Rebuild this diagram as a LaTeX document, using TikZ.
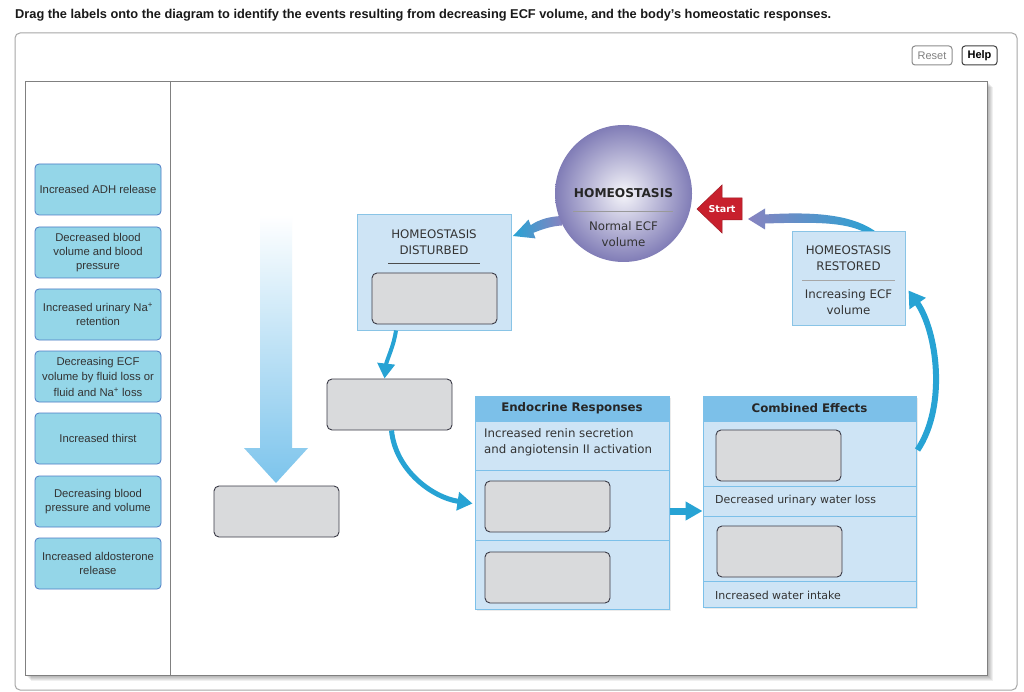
\documentclass[tikz,border=0pt]{standalone}
\usepackage{fontspec}
\setmainfont{Liberation Sans}
\newfontfamily\dv{DejaVu Sans}
\usetikzlibrary{arrows.meta,shapes.geometric}
\definecolor{lblfill}{HTML}{94D6E8}
\definecolor{lblborder}{HTML}{4D7CC4}
\definecolor{boxfill}{HTML}{CEE4F5}
\definecolor{boxborder}{HTML}{89C4E6}
\definecolor{hdrfill}{HTML}{7CC0E9}
\definecolor{dropfill}{HTML}{D9DADC}
\definecolor{dropborder}{HTML}{3A3A46}
\definecolor{arrblue}{HTML}{27A3D4}
\definecolor{purp}{HTML}{8783C0}
\definecolor{startred}{HTML}{C8202D}
\definecolor{bigblue}{HTML}{7CC4EC}
\definecolor{txt}{HTML}{333333}
\tikzset{
  lbl/.style={draw=lblborder, fill=lblfill, rounded corners=4pt, line width=0.8pt,
    minimum width=126pt, minimum height=51pt, inner sep=1pt, align=center,
    font=\fontsize{11.3}{14}\selectfont, text=txt},
  dropb/.style={draw=dropborder, fill=dropfill, rounded corners=5pt, line width=0.9pt,
    minimum width=125pt, minimum height=51pt},
  panelbox/.style={draw=boxborder, fill=boxfill, line width=1pt},
  dtext/.style={font=\dv\fontsize{11.8}{16}\selectfont, text=txt, inner sep=0pt},
  stext/.style={font=\dv\fontsize{11}{16}\selectfont, text=txt, inner sep=0pt},
  btext/.style={font=\dv\bfseries\fontsize{11.8}{13}\selectfont, text=black!85, inner sep=0pt},
  barrow/.style={draw=arrblue, line width=5pt, -{Triangle[length=15pt,width=18pt]}},
  btn/.style={rounded corners=3pt, line width=1pt, minimum height=19pt, inner sep=2pt,
    font=\fontsize{11}{13}\selectfont}
}
\begin{document}
\begin{tikzpicture}[x=1pt,y=-1pt]
\useasboundingbox (0,0) rectangle (1024,692);
\fill[white] (0,0) rectangle (1024,692);

% title
\node[anchor=west, inner sep=0pt, font=\bfseries\fontsize{12.8}{14}\selectfont, text=black!90] (title) at (15,15)
  {Drag the labels onto the diagram to identify the events resulting from decreasing ECF volume, and the body’s homeostatic responses.};

% outer frame
\draw[black!35, line width=1pt, rounded corners=5pt] (15,33) rectangle (1017,690);

% buttons
\node[btn, draw=black!45, text=black!50, minimum width=40pt] (reset) at (932,55.5) {Reset};
\node[btn, draw=black!75, text=black, font=\bfseries\fontsize{11}{13}\selectfont, minimum width=35pt] (help) at (979.5,55.5) {Help};

% inner panel with shadow
\foreach \i in {1,...,6} { \fill[black, opacity=0.06] (25+\i,81+\i) rectangle (987+\i,675+\i); }
\fill[white] (25,81) rectangle (987,675);
\draw[black!50, line width=0.8pt] (25,81) rectangle (987,675);
\draw[black!50, line width=0.8pt] (170,81) -- (170,675);

% left labels
\node[lbl] (l1) at (98,189.5) {Increased ADH release};
\node[lbl] (l2) at (98,252.5) {Decreased blood\\volume and blood\\pressure};
\node[lbl] (l3) at (98,314.5) {Increased urinary Na\textsuperscript{+}\\retention};
\node[lbl, font=\fontsize{11.3}{15.5}\selectfont] (l4) at (98,376.5) {Decreasing ECF\\volume by fluid loss or\\fluid and Na\textsuperscript{+} loss};
\node[lbl] (l5) at (98,438.5) {Increased thirst};
\node[lbl] (l6) at (98,501.5) {Decreasing blood\\pressure and volume};
\node[lbl] (l7) at (98,563.5) {Increased aldosterone\\release};

% big gradient arrow
\shade[top color=white, bottom color=bigblue] (260,215) -- (292,215) -- (292,448) -- (308,448) -- (276,483) -- (244,448) -- (260,448) -- cycle;

% arrow circle -> disturbed (gradient)
\shade[left color=arrblue, right color=purp] (513,236) -- (528.5,219.6) -- (530.6,225.2) .. controls (540,219) and (550,216.5) .. (562,216) -- (562,225.5) .. controls (552,226) and (543,229) .. (533.4,232.8) -- (535.5,238.4) -- cycle;

% arrow restored -> start (gradient)
\shade[left color=purp, right color=arrblue] (748,219) -- (765,208.5) -- (765,214.5) .. controls (820,211) and (855,216) .. (877,232.5) -- (865,232.5) .. controls (845,222) and (815,222) .. (765,223.5) -- (765,229.5) -- cycle;

% homeostasis circle
\node[circle, minimum size=137pt, inner sep=0pt] (home) at (623.5,193.5) {};
\shade[inner color=white!92!purp, outer color=purp!95!black] (home.center) circle (68.5);
\node[btext, font=\dv\bfseries\fontsize{12.2}{13}\selectfont] (homet) at (623.5,193) {HOMEOSTASIS};
\draw[black!40, line width=0.7pt] (573,211) -- (673,211);
\node[dtext, align=center] (homen) at (623.5,234.5) {Normal ECF\\volume};

% start arrow
\fill[startred, draw=startred!80!black, line width=0.5pt] (697,209) -- (722,185) -- (722,198) -- (742,198) -- (742,220) -- (722,220) -- (722,233) -- cycle;
\node[font=\dv\bfseries\fontsize{9.5}{10}\selectfont, text=white, inner sep=0pt] (start) at (722,209) {Start};

% homeostasis disturbed
\node[panelbox, minimum width=154pt, minimum height=115pt] (dist) at (434,272.5) {};
\node[dtext, align=center] (distt) at (434,242) {HOMEOSTASIS\\DISTURBED};
\draw[black!70, line width=1pt] (388,263.5) -- (480,263.5);
\node[dropb] (d1) at (434.5,298.5) {};

% homeostasis restored
\node[panelbox, minimum width=113pt, minimum height=93pt] (rest) at (848.5,278.5) {};
\node[dtext, align=center] (restt) at (848.5,258) {HOMEOSTASIS\\RESTORED};
\draw[black!35, line width=0.8pt] (802,280) -- (895,280);
\node[dtext, align=center] (restb) at (848.5,302) {Increasing ECF\\volume};

% drop boxes
\node[dropb] (d2) at (389.5,404.5) {};
\node[dropb] (d3) at (276.5,511.5) {};

% endocrine responses
\foreach \i in {1,2} { \fill[black, opacity=0.08] (475+\i,396+\i) rectangle (669+\i,609+\i); }
\node[panelbox, draw=hdrfill, minimum width=194pt, minimum height=213pt] (endo) at (572,502.5) {};
\fill[hdrfill] (475,396) rectangle (669,422);
\draw[hdrfill, line width=1pt] (475,396) rectangle (669,609);
\node[btext] (endoh) at (572,408.5) {Endocrine Responses};
\node[dtext, anchor=north west, align=left] (endot) at (484,428) {Increased renin secretion\\and angiotensin II activation};
\draw[hdrfill, line width=1pt] (475,470) -- (669,470);
\draw[hdrfill, line width=1pt] (475,540) -- (669,540);
\node[dropb] (d4) at (547.5,506.5) {};
\node[dropb] (d5) at (547.5,577.5) {};

% combined effects
\foreach \i in {1,2} { \fill[black, opacity=0.08] (703+\i,396+\i) rectangle (916+\i,607+\i); }
\node[panelbox, draw=hdrfill, minimum width=213pt, minimum height=211pt] (comb) at (809.5,501.5) {};
\fill[hdrfill] (703,396) rectangle (916,422);
\draw[hdrfill, line width=1pt] (703,396) rectangle (916,607);
\node[btext] (combh) at (809.5,408.5) {Combined Effects};
\draw[hdrfill, line width=1pt] (703,486) -- (916,486);
\draw[hdrfill, line width=1pt] (703,516) -- (916,516);
\draw[hdrfill, line width=1pt] (703,581) -- (916,581);
\node[stext, anchor=west] (combu) at (715,500.5) {Decreased urinary water loss};
\node[stext, anchor=west] (combw) at (715,595) {Increased water intake};
\node[dropb] (d6) at (778.5,455.5) {};
\node[dropb] (d7) at (779.5,551.5) {};

% blue connectors
\draw[barrow, line width=4pt, -{Triangle[length=15pt,width=17pt]}] ([xshift=-38]dist.south) .. controls +(-2,15) and +(2,-18) .. ([xshift=-5]d2.north);
\draw[barrow] ([xshift=2]d2.south) .. controls +(4,40) and +(-40,-6) .. ([xshift=-2,yshift=-1]endo.west);
\draw[barrow, line width=7pt, -{Triangle[length=17pt,width=18pt]}] ([yshift=-8.5]endo.east) -- ([yshift=-9.5]comb.west);
\draw[barrow, line width=6pt, -{Triangle[length=16pt,width=19pt]}] ([xshift=1,yshift=51.5]comb.east) .. controls +(30,-45) and +(28,40) .. ([xshift=3,yshift=-12]rest.east);
\end{tikzpicture}
\end{document}
